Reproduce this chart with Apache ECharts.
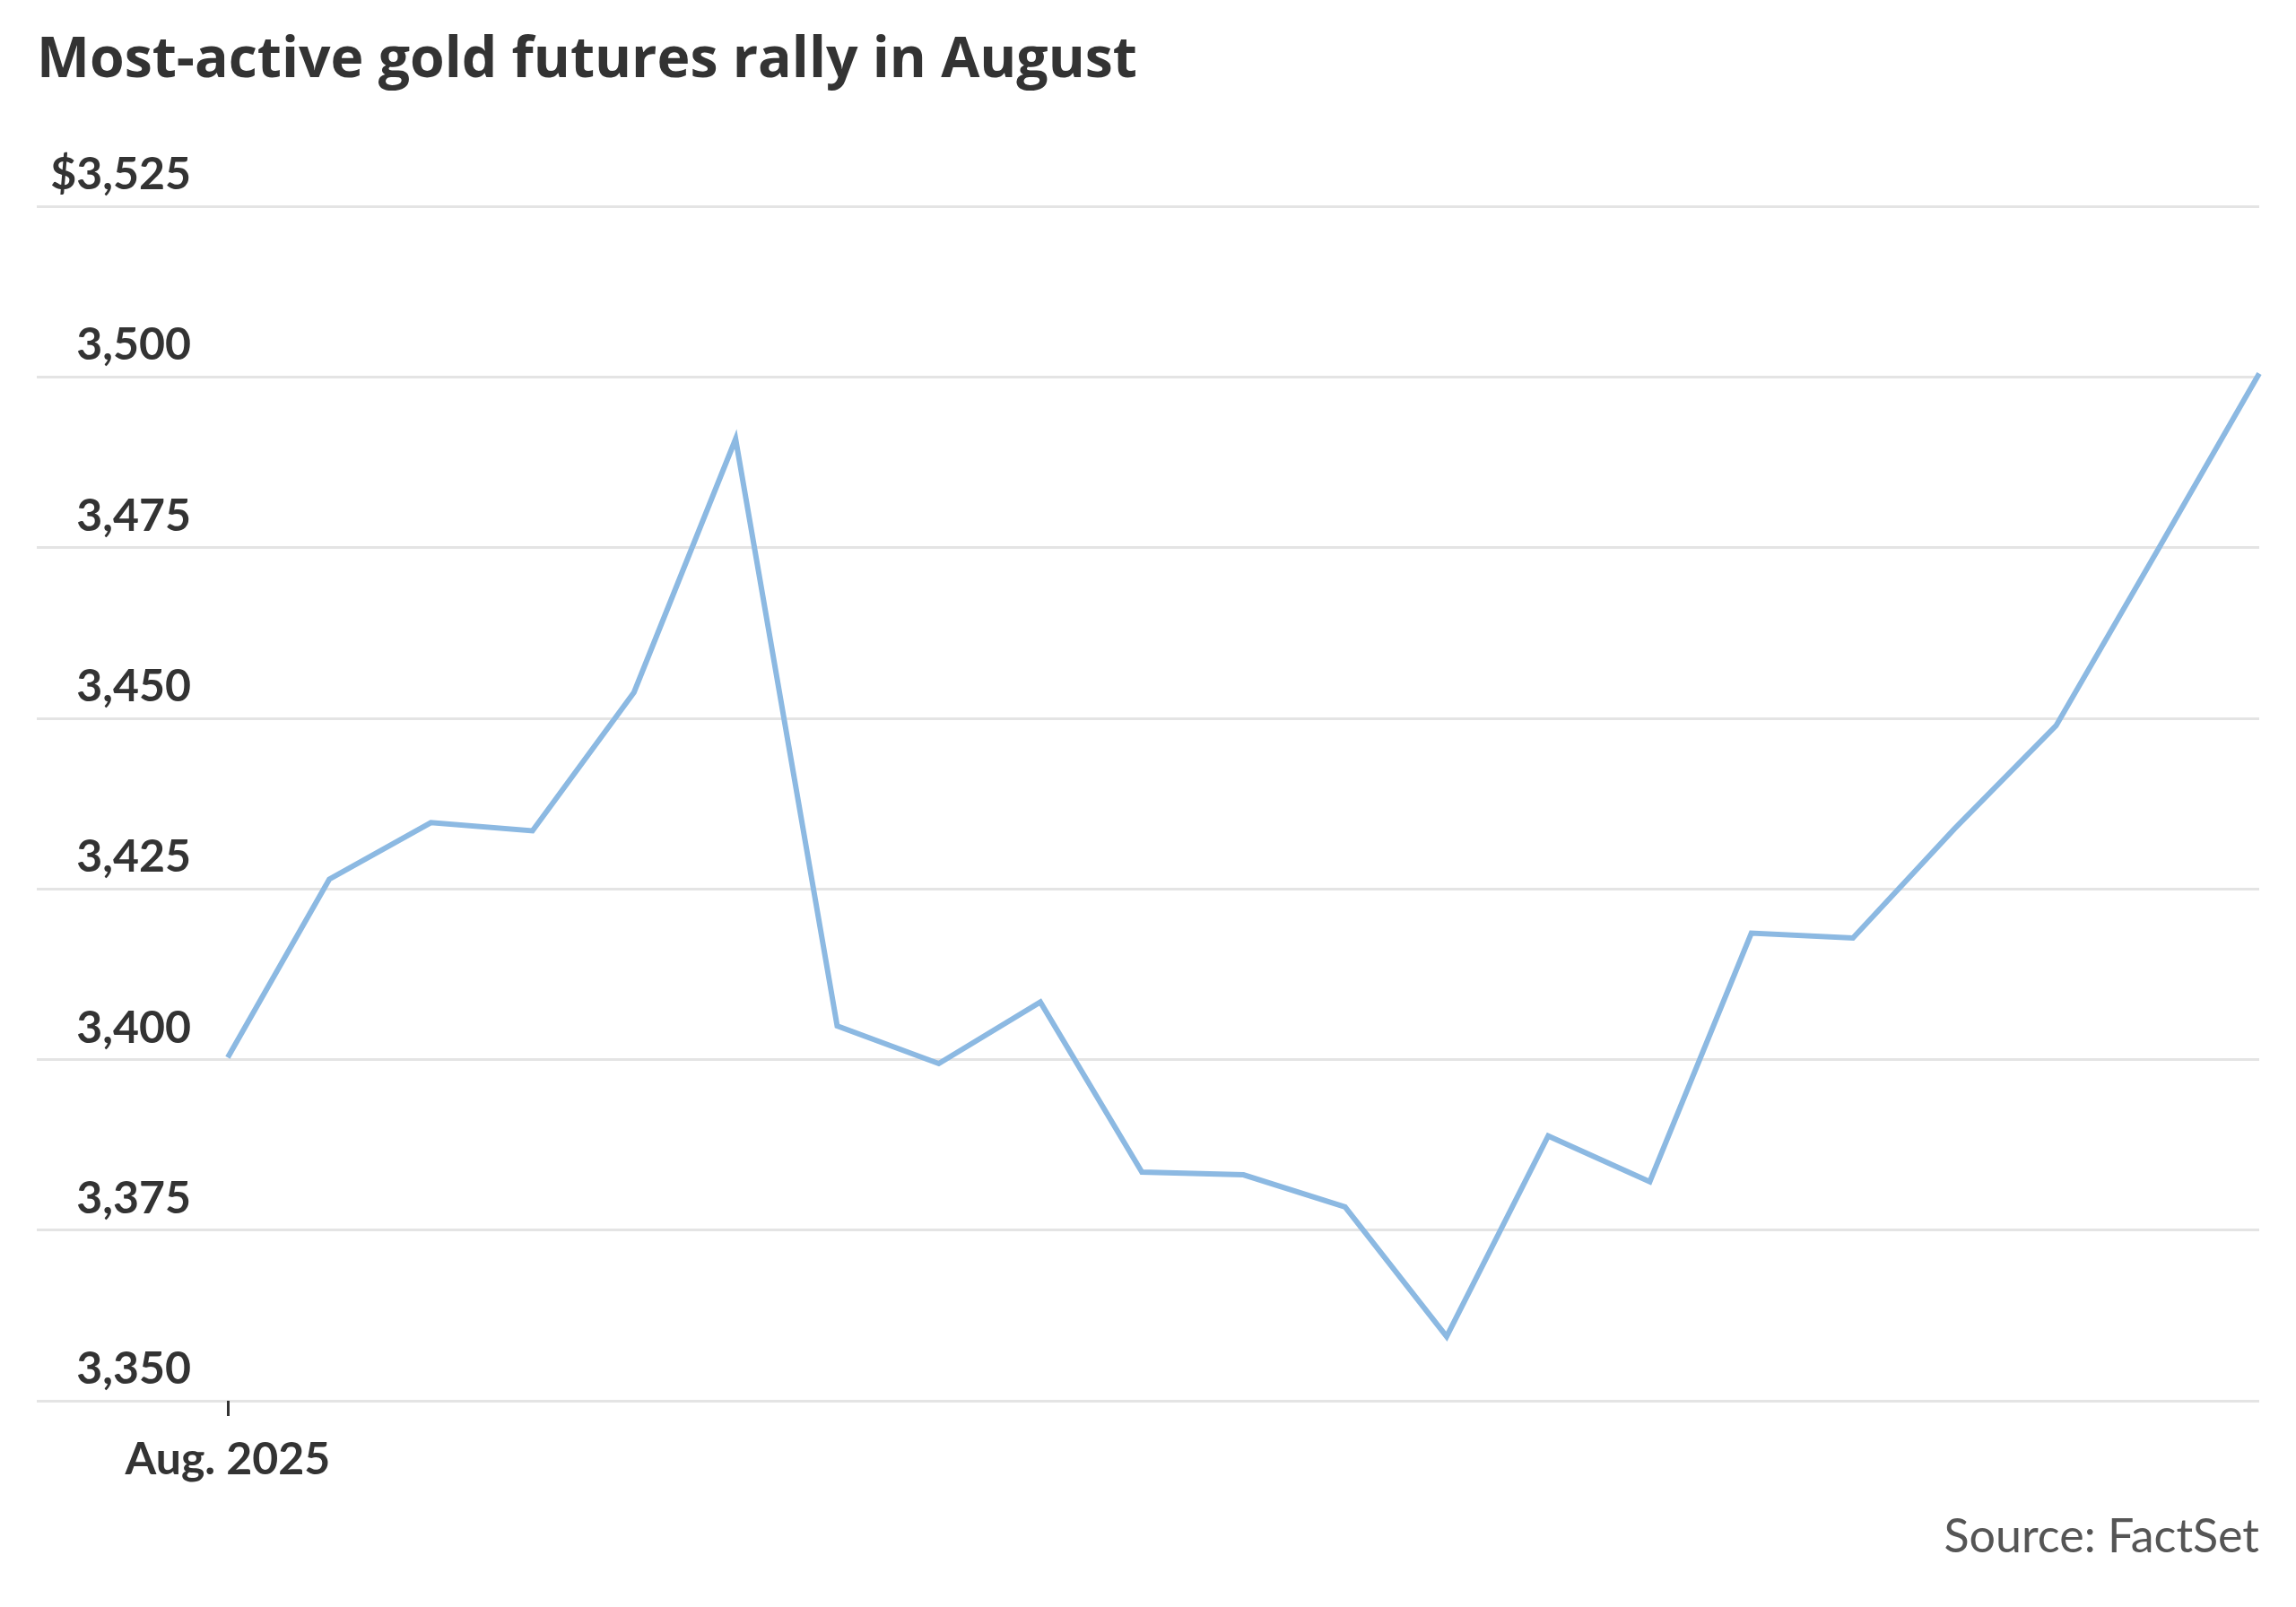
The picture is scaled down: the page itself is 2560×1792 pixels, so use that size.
<!DOCTYPE html>
<html>
<head>
<meta charset="utf-8">
<script src="https://cdn.jsdelivr.net/npm/echarts@6/dist/echarts.min.js"></script>
<style>
  html, body { margin: 0; padding: 0; background: #ffffff; }
  #chart { width: 2560px; height: 1792px; }
</style>
</head>
<body>
<div id="chart"></div>
<script>
// Trading days of August 2025 (evenly spaced on the chart)
const dates = ['2025-08-01','2025-08-04','2025-08-05','2025-08-06','2025-08-07','2025-08-08',
  '2025-08-11','2025-08-12','2025-08-13','2025-08-14','2025-08-15',
  '2025-08-18','2025-08-19','2025-08-20','2025-08-21','2025-08-22',
  '2025-08-25','2025-08-26','2025-08-27','2025-08-28','2025-08-29'];
// Most-active gold futures settle price (USD/oz)
const prices = [3400.3, 3426.4, 3434.7, 3433.5, 3453.8, 3490.9,
  3404.9, 3399.4, 3408.4, 3383.5, 3383.1,
  3378.4, 3359.4, 3388.8, 3382.1, 3418.5,
  3417.8, 3433.8, 3448.9, 3474.6, 3500.5];
const xTickIndex = [0];
const xTickLabels = ['Aug. 2025'];
const yMin = 3350, yMax = 3525, yStep = 25;

const titleText = 'Most-active gold futures rally in August';
const sourceText = 'Source: FactSet';

const chart = echarts.init(document.getElementById('chart'), null, { renderer: 'canvas' });
const FONT = 'Lato, "Noto Sans", sans-serif';

chart.setOption({
  backgroundColor: '#ffffff',
  animation: false,
  title: [
    {
      text: titleText,
      left: 41, top: 36, padding: 0,
      textStyle: { fontFamily: '"Open Sans", Lato, sans-serif', fontWeight: 'bold', fontSize: 62.5, lineHeight: 64, color: '#333333' }
    },
    {
      text: sourceText,
      right: 41, top: 1688, padding: 0,
      textStyle: { fontFamily: FONT, fontWeight: 'normal', fontSize: 52, lineHeight: 52, color: '#555555' }
    }
  ],
  grid: { left: 41, right: 41, top: 230, bottom: 230, containLabel: false },
  xAxis: {
    type: 'value',
    min: -1.88,
    max: dates.length - 1,
    axisLine: { show: false },
    splitLine: { show: false },
    axisTick: {
      show: true, customValues: xTickIndex, length: 17, inside: false,
      lineStyle: { color: '#333333', width: 3 }
    },
    axisLabel: {
      show: true, customValues: xTickIndex, margin: 41,
      formatter: (v) => xTickLabels[xTickIndex.indexOf(Math.round(v))] || '',
      fontFamily: FONT, fontWeight: 'bold', fontSize: 50, lineHeight: 50, color: '#333333'
    }
  },
  yAxis: {
    type: 'value',
    min: yMin, max: yMax, interval: yStep,
    axisLine: { show: false },
    axisTick: { show: false },
    splitLine: { show: true, lineStyle: { color: '#e4e4e4', width: 3 } },
    axisLabel: {
      show: true,
      showMinLabel: true, showMaxLabel: true,
      margin: -172, align: 'right',
      verticalAlign: 'bottom',
      lineHeight: 70,
      formatter: (v) => (v === yMax ? '$' : '') + Number(v).toLocaleString('en-US'),
      fontFamily: FONT, fontWeight: 'bold', fontSize: 50, color: '#333333'
    }
  },
  series: [{
    type: 'line',
    data: prices.map((p, i) => [i, p]),
    showSymbol: false,
    symbol: 'none',
    lineStyle: { color: '#8cb9e2', width: 6, join: 'miter' },
    z: 3
  }]
});
</script>
</body>
</html>
